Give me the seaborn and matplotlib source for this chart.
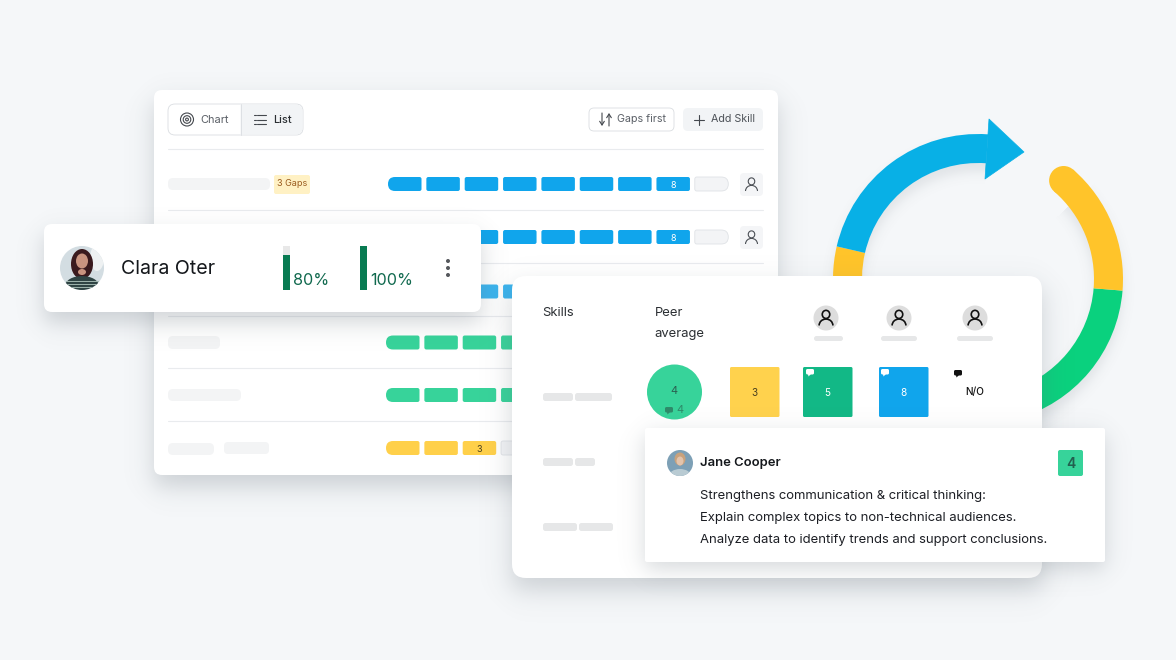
import numpy as np
import pandas as pd
import seaborn as sns
import matplotlib
matplotlib.use('Agg')
import matplotlib.pyplot as plt
from matplotlib.patches import Circle, Ellipse, PathPatch, Polygon, Wedge, Arc
from matplotlib.path import Path

# row data of the list card
row_colors = ['#10A5EC', '#10A5EC', '#3BB4EE', '#37D39A', '#37D39A', '#FFD04A']
row_filled = [8, 8, 8, 8, 8, 3]
row_labels = ['8', '8', '', '', '', '3']
row_total = 9

# Clara's two progress bars
bar_names = ['self', 'manager']
bar_values = [80, 100]
bar_texts = ['80%', '100%']

# peer table
peer_scores = ['3', '5', '8']
peer_colors = ['#FFD24D', '#12B886', '#10A5EC']
peer_text_colors = ['#4a4020', 'white', 'white']

# ring, in degrees (counter clockwise from 3 o'clock)
ring_starts = [-75, 167, -4.6]
ring_ends = [-4.6, 215, 49]
ring_colors = ['#0AD17E', '#FFC42A', '#FFC42A']
ring_blue = (86, 167, '#08B0E6')

comment_lines = [
    'Strengthens communication & critical thinking:',
    'Explain complex topics to non-technical audiences.',
    'Analyze data to identify trends and support conclusions.',
]

sns.set_theme(style='white')
plt.rcParams['font.family'] = ['Inter', 'DejaVu Sans']
plt.rcParams['patch.linewidth'] = 0

BG = '#F5F7F9'
LINE = '#E9EBEE'
PLACE = '#F3F4F5'
GREY = '#E6E7E8'
W, H = 1176, 660

fig = plt.figure(figsize=(11.76, 6.6), dpi=100, facecolor=BG)
ax = fig.add_axes([0, 0, 1, 1])
ax.set_facecolor(BG)

px, py = np.meshgrid(np.arange(W) + 0.5, np.arange(H) + 0.5)


def step(d, sigma):
    return 0.5 * (1 + np.tanh(d / sigma * 0.9))


def paint(alpha, z):
    rgba = np.zeros((H, W, 4))
    rgba[..., :3] = np.array([90, 102, 112]) / 255
    rgba[..., 3] = alpha
    ax.imshow(rgba, extent=(0, W, H, 0), zorder=z, interpolation='nearest', aspect='auto')


def rrect(x0, y0, x1, y1, r=3, z=10, fc='white', ec='none', lw=0):
    # r is one radius or (top left, top right, bottom right, bottom left)
    tl, tr, br, bl = (r, r, r, r) if np.isscalar(r) else r
    verts = [(x0 + tl, y0), (x1 - tr, y0), (x1, y0), (x1, y0 + tr),
             (x1, y1 - br), (x1, y1), (x1 - br, y1),
             (x0 + bl, y1), (x0, y1), (x0, y1 - bl),
             (x0, y0 + tl), (x0, y0), (x0 + tl, y0), (x0 + tl, y0)]
    codes = [Path.MOVETO, Path.LINETO, Path.CURVE3, Path.CURVE3,
             Path.LINETO, Path.CURVE3, Path.CURVE3,
             Path.LINETO, Path.CURVE3, Path.CURVE3,
             Path.LINETO, Path.CURVE3, Path.CURVE3, Path.CLOSEPOLY]
    patch = PathPatch(Path(verts, codes), fc=fc, ec=ec, lw=lw, zorder=z)
    ax.add_patch(patch)
    return patch


def shadow(x0, y0, x1, y1, sigma, dy, a, z):
    fx = step(px - x0, sigma) * step(x1 - px, sigma)
    fy = step(py - y0 - dy, sigma) * step(y1 + dy - py, sigma)
    paint(a * fx * fy, z)


def label(x, y, s, size, z, color='#3a3f45', ha='left', weight='normal'):
    ax.text(x, y + 1, s, fontsize=size * 0.72, color=color, ha=ha, va='center',
            fontweight=weight, zorder=z)


def person(cx, cy, s, color, lw, z):
    ax.add_patch(Ellipse((cx, cy - s * 0.24), s * 0.5, s * 0.54, fc='none', ec=color, lw=lw, zorder=z))
    ax.add_patch(Arc((cx, cy + s * 0.5), s * 0.92, s * 0.86, theta1=180, theta2=360,
                     ec=color, lw=lw, zorder=z))


def bubble(cx, cy, color, z):
    rrect(cx - 4, cy - 3, cx + 4, cy + 2.5, 1.5, z=z, fc=color)
    ax.add_patch(Polygon([(cx - 2, cy + 2), (cx + 1, cy + 2), (cx - 1.5, cy + 4.5)], fc=color, zorder=z))


# ---- ring ----
cx, cy = 978, 279
ro, width = 145, 29
blue_a, blue_b, blue_c = ring_blue

rr = np.hypot(px - cx, py - cy - 9)
ang = np.degrees(np.arctan2(cy + 9 - py, px - cx)) % 360
band = step(rr - (ro - width), 6) * step(ro - rr, 6)
arc_mask = ((ang > 86) & (ang < 215)) | (ang > 285) | (ang < 42)
paint(0.13 * band * arc_mask, 1)

for a0, a1, c in zip(ring_starts, ring_ends, ring_colors):
    ax.add_patch(Wedge((cx, cy), ro, -a1, -a0, width=width, fc=c, zorder=2))
mid = ro - width / 2
end = np.deg2rad(ring_ends[2])
ax.add_patch(Circle((cx + mid * np.cos(end), cy - mid * np.sin(end)), width / 2,
                    fc=ring_colors[2], zorder=2))
ax.add_patch(Wedge((cx, cy), ro, -blue_b, -blue_a, width=width, fc=blue_c, zorder=2))
ax.add_patch(Polygon([(989, 119), (1024, 152), (985, 179)], fc=blue_c, ec=blue_c, lw=0.5,
                     joinstyle='round', zorder=2))

# ---- list card ----
shadow(154, 90, 778, 475, 13, 12, 0.27, 9)
rrect(154, 90, 778, 475, 8, z=10)

rrect(168, 104, 303, 135, 7, z=11, fc='white', ec='#DADDE1', lw=0.6)
rrect(240.5, 104.5, 302.6, 134.6, (0, 7, 7, 0), z=11, fc='#F2F4F6')
ax.plot([240.5, 240.5], [104, 135], color='#DADDE1', lw=0.6, zorder=12)
for rad in [6.5, 3.8, 1.4]:
    ax.add_patch(Circle((187, 119.5), rad, fc='none', ec='#44484E', lw=0.8, zorder=12))
label(200.5, 119, 'Chart', 11, 12, color='#5a5f66')
for yy in [115, 119.5, 124]:
    ax.plot([254, 255.5], [yy, yy], color='#44484E', lw=0.8, zorder=12)
    ax.plot([257, 266], [yy, yy], color='#44484E', lw=0.8, zorder=12)
label(273, 119, 'List', 11, 12, color='#2b2f33', weight='medium')

rrect(589, 108, 674, 131, 5, z=11, fc='white', ec='#DADDE1', lw=0.6)
ax.annotate('', (602, 126), (602, 113), zorder=12,
            arrowprops=dict(arrowstyle='->,head_width=0.14,head_length=0.22', color='#44484E', lw=0.8, shrinkA=0, shrinkB=0))
ax.annotate('', (609, 113), (609, 126), zorder=12,
            arrowprops=dict(arrowstyle='->,head_width=0.14,head_length=0.22', color='#44484E', lw=0.8, shrinkA=0, shrinkB=0))
label(617, 118.5, 'Gaps first', 10.7, 12, color='#5a5f66')
rrect(683, 108, 763, 131, 5, z=11, fc='#F2F4F6')
ax.plot([693.5, 703.5], [119.5, 119.5], color='#44484E', lw=0.8, zorder=12)
ax.plot([698.5, 698.5], [114.5, 124.5], color='#44484E', lw=0.8, zorder=12)
label(711, 118.5, 'Add Skill', 10.7, 12, color='#4d5258')

for yy in [148.5, 210, 263, 316, 368, 421]:
    ax.plot([168, 763], [yy, yy], color=LINE, lw=0.8, zorder=11)

row_y = [184, 237, 291.5, 342.5, 395, 448]
row_x = [388, 388, 388, 386, 386, 386]
for yy, x0, c, n, txt in zip(row_y, row_x, row_colors, row_filled, row_labels):
    for k in range(row_total):
        xa = x0 + k * 38.35
        rad = (7, 2, 2, 7) if k == 0 else ((2, 7, 7, 2) if k == row_total - 1 else 2)
        if k < n:
            rrect(xa, yy - 7, xa + 33.5, yy + 7, rad, z=12, fc=c)
            if k == n - 1 and txt:
                label(xa + 16.7, yy + 0.5, txt, 9, 13, ha='center',
                      color='white' if c != '#FFD04A' else '#4a4020')
        else:
            rrect(xa, yy - 7, xa + 33.5, yy + 7, rad, z=12, fc='#F3F4F6', ec='#DFE2E6', lw=0.6)

rrect(168, 178, 270, 190, 5, z=11, fc=PLACE)
rrect(274, 175, 310, 194, 2, z=11, fc='#FFF1C4')
label(292, 183, '3 Gaps', 9, 12, color='#9A5B1E', ha='center')
rrect(168, 336, 220, 349, 5, z=11, fc=PLACE)
rrect(168, 389, 241, 401, 5, z=11, fc=PLACE)
rrect(168, 443, 214, 455, 5, z=11, fc=PLACE)
rrect(224, 442, 269, 454, 4, z=11, fc=PLACE)
for yy in [184.5, 237.5]:
    rrect(740, yy - 11.5, 763, yy + 11.5, 4, z=11, fc='#F4F5F7')
    person(751.5, yy, 13, '#4b4f55', 0.8, 12)

# ---- Clara card ----
shadow(44, 224, 481, 312, 12, 11, 0.27, 19)
rrect(44, 224, 481, 312, 8, z=20)

clip = Circle((82, 268), 22, fc='#D3DDE2', zorder=21)
ax.add_patch(clip)
clara_parts = [
    Ellipse((97, 258), 14, 26, fc='#EEF1F2', zorder=21),
    Ellipse((82, 264), 22, 30, fc='#3A1A1E', zorder=21),
    Ellipse((82, 286), 34, 20, fc='#2F4444', zorder=21),
    Ellipse((82, 261), 12, 15, fc='#C99480', zorder=21),
    Ellipse((82, 272), 8, 6, fc='#C99480', zorder=21),
]
for part in clara_parts:
    ax.add_patch(part)
    part.set_clip_path(clip)
for yy in [281, 284, 287]:
    stripe, = ax.plot([66, 98], [yy, yy], color='#9FB5AE', lw=0.7, zorder=21)
    stripe.set_clip_path(clip)
label(121, 267.5, 'Clara Oter', 19.6, 21, color='#15181c')
for xx, txt in zip([293, 370], bar_texts):
    label(xx, 279.5, txt, 16.2, 21, color='#10694E')
for yy in [261, 268, 275]:
    ax.add_patch(Circle((448, yy), 2, fc='#55585c', zorder=21))

# the two bars go in their own small axes, 0-100 over 44 px
bar_ax = fig.add_axes([248 / W, 1 - 290 / H, 154 / W, 44 / H])
bar_df = pd.DataFrame({'name': bar_names, 'value': bar_values, 'full': [100] * len(bar_values)})
sns.barplot(data=bar_df, x='name', y='full', color='#E8E8E8', saturation=1, width=7.4 / 77, ax=bar_ax)
sns.barplot(data=bar_df, x='name', y='value', color='#087B52', saturation=1, width=7.4 / 77, ax=bar_ax)
bar_ax.set_ylim(0, 100)
bar_ax.set_xlim(-0.5, 1.5)
bar_ax.axis('off')

# ---- skills card ----
shadow(512, 276, 1042, 578, 14, 12, 0.27, 29)
rrect(512, 276, 1042, 578, 14, z=30)
label(542, 312.5, 'Skills', 13, 31, color='#2b2f33')
label(654.5, 312.5, 'Peer', 13, 31, color='#2b2f33')
label(654.5, 332.5, 'average', 13, 31, color='#2b2f33')
for xx, p0, p1 in zip([826, 899, 975], [814, 881, 957], [843, 917, 993]):
    ax.add_patch(Circle((xx, 318), 12.5, fc='#DDDDDD', zorder=31))
    person(xx, 318, 15, '#111111', 1.2, 32)
    rrect(p0, 336, p1, 341, 2.5, z=31, fc=GREY)

for yy, segs in zip([397, 462, 527], [[(543, 573), (575, 612)], [(543, 573), (575, 595)], [(543, 577), (579, 613)]]):
    for a0, a1 in segs:
        rrect(a0, yy - 4, a1, yy + 4, 2.5, z=31, fc=GREY)

ax.add_patch(Circle((674.5, 392), 27.5, fc='#37D39A', zorder=31))
label(674, 390, '4', 11, 32, ha='center', color='#2A5F50')
bubble(669, 410, '#2E8B6A', 32)
label(680, 409, '4', 11, 32, color='#2E8B6A', ha='center')
for xx, s, c, tc in zip([730, 803, 879], peer_scores, peer_colors, peer_text_colors):
    rrect(xx, 367, xx + 49.5, 417, 1.5, z=31, fc=c)
    label(xx + 24.7, 391.5, s, 10, 32, ha='center', color=tc)
bubble(810, 372, 'white', 32)
bubble(885, 372, 'white', 32)
bubble(958, 373, '#111111', 32)
label(975, 391.5, 'N/O', 10, 32, ha='center', color='#111111', weight='medium')

# ---- comment card ----
shadow(645, 428, 1105, 562, 12, 7, 0.25, 39)
rrect(645, 428, 1105, 562, 2, z=40)
clip2 = Circle((680, 463), 13, fc='#7DA0B6', zorder=41)
ax.add_patch(clip2)
for part in [Ellipse((680, 476), 22, 14, fc='#B9CBD3', zorder=41),
             Ellipse((680, 459), 11, 13, fc='#C9A27C', zorder=41),
             Ellipse((680, 461), 7, 9, fc='#E3C4AC', zorder=41)]:
    ax.add_patch(part)
    part.set_clip_path(clip2)
label(700, 462, 'Jane Cooper', 13, 41, color='#15181c', weight='semibold')
rrect(1058, 450, 1083, 476, 2, z=41, fc='#37D39A')
label(1070.5, 462.5, '4', 14, 42, ha='center', color='#22604F', weight='semibold')
for yy, s in zip([494.5, 516.5, 538.5], comment_lines):
    label(700, yy, s, 13.08, 41, color='#1c1e24')

ax.set_xlim(0, W)
ax.set_ylim(H, 0)
ax.axis('off')
fig.savefig('out.png', dpi=100, facecolor=BG)
